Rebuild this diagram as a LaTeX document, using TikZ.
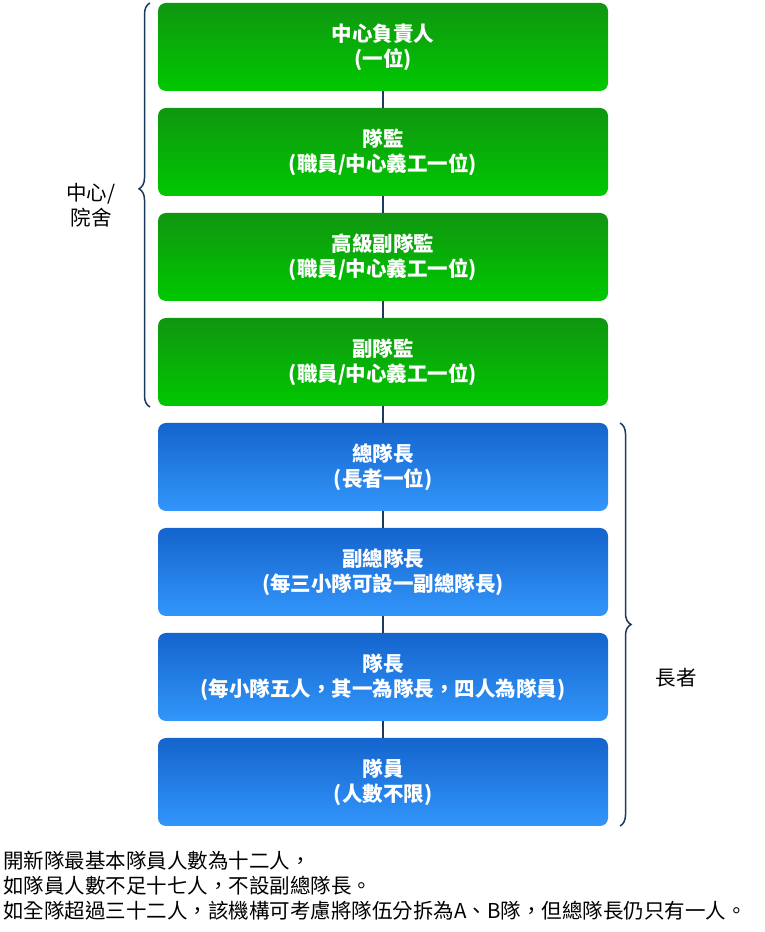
\documentclass[tikz,border=0pt]{standalone}
\usepackage{fontspec}
\setmainfont{Noto Sans CJK TC}
\usetikzlibrary{decorations.pathreplacing}
\definecolor{navy}{HTML}{1B3A5C}
\tikzset{
 boxg/.style={rounded corners=8pt,minimum width=450pt,minimum height=88pt,shading angle=0,text=white,font=\bfseries\fontsize{20.5}{25}\selectfont,align=center,inner sep=0pt},
 gbox/.style={boxg,top color={rgb,255:red,16;green,150;blue,16},bottom color={rgb,255:red,0;green,200;blue,0}},
 bbox/.style={boxg,top color={rgb,255:red,20;green,100;blue,205},bottom color={rgb,255:red,50;green,150;blue,250}},
 conn/.style={navy,line width=1.5pt},
 brc/.style={navy,line width=1.5pt,decorate,decoration={brace,amplitude=11pt}},
 lbl/.style={font=\fontsize{20.5}{25}\selectfont,align=center},
 note/.style={font=\fontsize{20.5}{25}\selectfont,anchor=west,inner sep=0pt}
}
\begin{document}
\begin{tikzpicture}[x=1pt,y=1pt]
\useasboundingbox (0,0) rectangle (765,932);
\node[gbox] (b1) at (383,932-47) {中心負責人\\(一位)};
\node[gbox] (b2) at (383,932-152) {隊監\\(職員/中心義工一位)};
\node[gbox] (b3) at (383,932-257) {高級副隊監\\(職員/中心義工一位)};
\node[gbox] (b4) at (383,932-362) {副隊監\\(職員/中心義工一位)};
\node[bbox] (b5) at (383,932-467) {總隊長\\(長者一位)};
\node[bbox] (b6) at (383,932-572) {副總隊長\\(每三小隊可設一副總隊長)};
\node[bbox] (b7) at (383,932-677) {隊長\\(每小隊五人，其一為隊長，四人為隊員)};
\node[bbox] (b8) at (383,932-782) {隊員\\(人數不限)};
\foreach \a/\b in {b1/b2,b2/b3,b3/b4,b4/b5,b5/b6,b6/b7,b7/b8}
  \draw[conn] (\a.south) -- (\b.north);
\coordinate (l1) at (150,932-407);
\coordinate (l2) at (150,932-3);
\draw[brc,decoration={aspect=0.54}] (l1) -- (l2);
\coordinate (r1) at (620,932-423);
\coordinate (r2) at (620,932-826);
\draw[brc,decoration={aspect=0.5}] (r1) -- (r2);
\node[lbl] (lc) at (91,932-205) {中心/\\院舍};
\node[lbl] (le) at (676,932-678) {長者};
\node[note] (n1) at (3,932-861) {開新隊最基本隊員人數為十二人，};
\node[note] (n2) at (3,932-886) {如隊員人數不足十七人，不設副總隊長。};
\node[note] (n3) at (3,932-911) {如全隊超過三十二人，該機構可考慮將隊伍分拆為A、B隊，但總隊長仍只有一人。};
\end{tikzpicture}
\end{document}
